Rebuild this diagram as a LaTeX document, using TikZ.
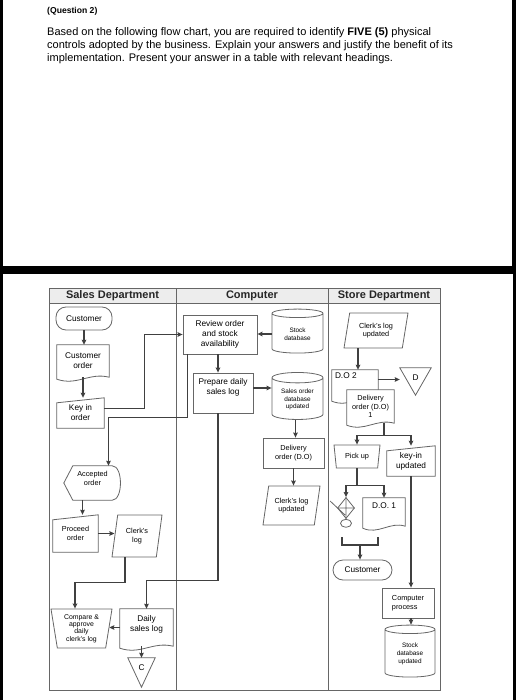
\documentclass[tikz,border=0pt]{standalone}
\usepackage{fontspec}
\setmainfont{Liberation Sans}
\usetikzlibrary{calc,arrows.meta,positioning,shapes.geometric,backgrounds}

\begin{document}
\begin{tikzpicture}[
  x=1pt, y=-1pt, >=Stealth,
  ft/.style={font=\fontsize{8.3}{10}\selectfont},
  fm/.style={font=\fontsize{7.3}{8.7}\selectfont},
  fs/.style={font=\fontsize{6.4}{7.8}\selectfont},
  shapeline/.style={draw=black!60, line width=0.8pt},
  term/.style={shapeline, rectangle, rounded corners=10pt, align=center, inner sep=1pt},
  proc/.style={shapeline, rectangle, align=center, inner sep=1pt},
  db/.style={shapeline, cylinder, shape border rotate=90, aspect=0.3, fill=white, align=center, inner sep=1pt},
  para/.style={shapeline, trapezium, trapezium left angle=72, trapezium right angle=108, trapezium stretches body, align=center, inner sep=1pt},
  manop/.style={shapeline, trapezium, trapezium angle=78, shape border rotate=180, trapezium stretches body, align=center, inner sep=1pt},
  plain/.style={rectangle, align=center, inner sep=1pt},
  head/.style={font=\fontsize{11}{13}\selectfont\bfseries, text=black!85},
  line/.style={draw=black!75, line width=1.1pt, -{Stealth[length=5pt, width=4.5pt, inset=0.5pt]}},
  wire/.style={draw=black!75, line width=1.1pt},
  frame/.style={draw=black!60, line width=0.9pt}
]
  \useasboundingbox (0,0) rectangle (516,700);

  % Screenshot panels
  \begin{pgfonlayer}{background}
    \fill[black] (0,0) rectangle (516,700);
    \fill[white] (3,0) rectangle (512,266);
    \fill[white] (3,274) rectangle (513,700);
  \end{pgfonlayer}

  % Question
  \node[anchor=west, inner sep=0, font=\fontsize{8.6}{10}\selectfont\bfseries] (qnum) at (47,11) {(Question 2)};
  \node[anchor=north west, align=left, inner sep=0, font=\fontsize{11}{13}\selectfont] (qtext) at (47,27.5) {
    Based on the following flow chart, you are required to identify \textbf{FIVE (5)} physical\\
    controls adopted by the business. Explain your answers and justify the benefit of its\\
    implementation. Present your answer in a table with relevant headings.
  };

  % ==================== SWIMLANE FRAME ====================
  \fill[black!7] (49,288) rectangle (440,303);
  \draw[frame] (49,288) rectangle (440,690);
  \draw[frame] (49,303) -- (440,303);
  \draw[frame] (176,288) -- (176,690);
  \draw[frame] (328,288) -- (328,690);
  \node[head] (hsales) at (112.5,296) {Sales Department};
  \node[head] (hcomp) at (252,296) {Computer};
  \node[head] (hstore) at (384,296) {Store Department};

  % ==================== SALES DEPARTMENT ====================
  \node[term, ft, minimum width=56pt, minimum height=23pt] (cust) at (84,318.5) {Customer};
  \node[plain, ft, minimum width=52pt, minimum height=32pt] (corder) at (83,361) {Customer\\order};
  \node[plain, ft, minimum width=47pt, minimum height=30pt] (keyin) at (80.5,413) {Key in\\order};
  \node[plain, fm, minimum width=57pt, minimum height=34pt, text depth=9pt] (accept) at (92.5,483) {Accepted\\order};
  \node[plain, fm, minimum width=45pt, minimum height=37pt] (proceed) at (75.5,533.5) {Proceed\\order};
  \node[para, fm, minimum width=50pt, minimum height=42pt] (clog) at (137,536) {Clerk's\\log};
  \node[manop, font=\fontsize{6.9}{7.2}\selectfont, minimum width=61pt, minimum height=39pt] (compare) at (81.5,628.5) {Compare \&\\approve\\daily\\clerk's log};
  \node[plain, ft, minimum width=53pt, minimum height=37pt, text depth=9pt] (dslog) at (146.5,627.5) {Daily\\sales log};
  \node[plain, ft, minimum width=27pt, minimum height=29pt, inner sep=0, text depth=9pt] (offc) at (141.5,672.5) {C};

  % ==================== COMPUTER ====================
  \node[proc, ft, minimum width=74pt, minimum height=39pt] (review) at (220,334.5) {Review order\\and stock\\availability};
  \node[db, fs, minimum width=51pt, minimum height=44pt] (stockdb) at (297.5,334) {Stock\\database};
  \node[proc, ft, minimum width=60pt, minimum height=40pt, text depth=14pt] (prep) at (223,393) {Prepare daily\\sales log};
  \node[db, fs, minimum width=51pt, minimum height=47pt] (sodb) at (297.5,399.5) {Sales order\\database\\updated};
  \node[proc, fm, minimum width=61pt, minimum height=30pt] (dord) at (293.5,453) {Delivery\\order (D.O)};
  \node[para, fm, minimum width=57pt, minimum height=39pt] (clogc) at (291.5,505.5) {Clerk's log\\updated};

  % ==================== STORE DEPARTMENT ====================
  \node[para, fm, minimum width=64pt, minimum height=35pt] (clogs) at (376,330.5) {Clerk's log\\updated};
  \node[plain, minimum width=46pt, minimum height=29pt,
        label={[anchor=north west, ft, inner sep=3pt]north west:D.O 2}] (do2) at (355,384.5) {};
  \node[plain, fm, minimum width=47pt, minimum height=33pt] (do1) at (370.5,406.5) {Delivery\\order (D.O)\\1};
  \node[plain, ft, minimum width=31pt, minimum height=27pt, inner sep=0, text depth=7pt] (offd) at (415.5,381.5) {D};
  \node[manop, fm, trapezium angle=75, minimum width=46pt, minimum height=23pt] (pickup) at (357,456.5) {Pick up};
  \node[plain, ft, minimum width=48pt, minimum height=30pt] (keyup) at (411,461) {key-in\\updated};
  \node[diamond, shapeline, minimum width=17pt, minimum height=21pt, inner sep=0] (check) at (346,508) {};
  \node[ellipse, shapeline, minimum width=11pt, minimum height=8pt, inner sep=0, below=0pt of check] (checkb) {};
  \node[plain, ft, minimum width=42pt, minimum height=28pt, text depth=12pt] (do1b) at (384,512) {D.O. 1};
  \node[term, ft, minimum width=59pt, minimum height=20pt] (custs) at (362.5,570) {Customer};
  \node[proc, fm, align=left, minimum width=52pt, minimum height=30pt] (cproc) at (408,603) {Computer\\process};
  \node[db, fs, minimum width=50pt, minimum height=52pt] (stockup) at (410,654) {Stock\\database\\updated};

  % Outlines of documents, manual inputs, display and off-page connectors
  \begin{pgfonlayer}{background}
    \foreach \d in {corder,dslog,do2,do1,do1b}
      \filldraw[shapeline, fill=white] (\d.north west) -- (\d.north east) -- (\d.south east)
        .. controls ($(\d.south)+(6,-5)$) and ($(\d.south)+(-6,9)$) .. ($(\d.south west)+(0,2)$) -- cycle;
    \foreach \m in {keyin,proceed,keyup}
      \filldraw[shapeline, fill=white] ($(\m.north west)+(0,5)$) -- (\m.north east) -- (\m.south east) -- (\m.south west) -- cycle;
    \filldraw[shapeline, fill=white] (accept.west) -- ($(accept.north west)+(9,0)$) -- ($(accept.north east)+(-9,0)$)
      .. controls ($(accept.north east)+(2,0)$) and ($(accept.south east)+(2,0)$) .. ($(accept.south east)+(-9,0)$)
      -- ($(accept.south west)+(9,0)$) -- cycle;
    \foreach \t in {offc,offd}
      \filldraw[shapeline, fill=white] (\t.north west) -- (\t.north east) -- (\t.south) -- cycle;
  \end{pgfonlayer}
  \draw[shapeline] (check.north) -- (check.south) (check.west) -- (check.east)
    ($(check.west)+(-7,-7)$) -- ($(check.center)+(-1,7)$);

  % Connectors in sales department
  \draw[line] (cust.south) -- (cust.south |- corder.north);
  \draw[line] (corder.south) -- (corder.south |- keyin.north);
  \draw[line] (keyin.10) -- ++(40,0) |- (review.west);
  \draw[line] ([xshift=5pt]review.south west) -- ++(0,63) -| ([xshift=16pt]accept.north);
  \draw[line] ([xshift=-10pt]accept.south) -- ([xshift=-10pt]accept.south |- proceed.north);
  \draw[line] (proceed.east) -- (proceed.east -| clog.west);
  \draw[line] ([xshift=-12pt]clog.south) -- ++(0,25) -| ([xshift=-6.5pt]compare.north);
  \draw[line] (dslog.west) -- (dslog.west -| compare.east);
  \draw[line] (offc.north |- dslog.south) -- (offc.north);

  % Connectors in computer
  \draw[line] (stockdb.west) -- (stockdb.west -| review.east);
  \draw[line] ([xshift=-2pt]review.south) -- ([xshift=-2pt]review.south |- prep.north);
  \draw[line] ([yshift=5pt]prep.east) -- ([yshift=5pt]prep.east -| sodb.west);
  \draw[line] ([xshift=-5pt]prep.south) -- ++(0,167) -| (dslog.north);
  \draw[line] ([xshift=-2pt]sodb.south) -- ([xshift=-2pt]sodb.south |- dord.north);
  \draw[line] (dord.south) -- (dord.south |- clogc.north);

  % Connectors in store department
  \draw[line] ([xshift=-18pt]clogs.south) -- ([xshift=-18pt]clogs.south |- do2.north);
  \draw[line] ([yshift=5pt]do2.east) -- ([yshift=5pt]do2.east -| offd.west);
  \draw[wire] ([xshift=13.5pt]do1.south) -- ++(0,12) coordinate (fork1);
  \draw[line] (fork1) -| (pickup.north);
  \draw[line] (fork1) -| (keyup.north);
  \draw[wire] (pickup.south) -- ++(0,17) coordinate (fork2);
  \draw[line] (fork2) -| (check.north);
  \draw[line] (fork2) -| (do1b.north);
  \coordinate (jl) at (342,537);
  \coordinate (jr) at (378,537);
  \draw[wire] (jl) -- ++(0,8) -| (jr);
  \coordinate (jm) at ($(jl)!0.5!(jr)+(0,8)$);
  \draw[line] (jm) -- (jm |- custs.north);
  \draw[line] (keyup.south) -- (keyup.south |- cproc.north);
  \draw[line] (keyup.south |- cproc.south) -- (keyup.south |- stockup.north);

\end{tikzpicture}
\end{document}
